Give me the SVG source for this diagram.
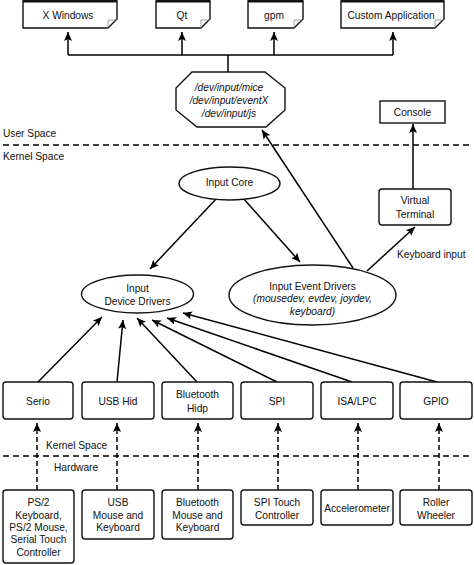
<svg xmlns="http://www.w3.org/2000/svg" width="474" height="565" viewBox="0 0 474 565">
<defs>
<marker id="ah" markerUnits="userSpaceOnUse" markerWidth="10" markerHeight="8" refX="9" refY="4" orient="auto">
<path d="M0,0 L9,4 L0,8 L2,4 z" fill="#000"/>
</marker>
<style>
text{font-family:"Liberation Sans",Arial,sans-serif;font-size:10.2px;fill:#111;}
.c{text-anchor:middle;}
.i{font-style:italic;}
.box{fill:#fff;stroke:#111;stroke-width:1.4;}
.top{stroke:#111;stroke-width:3;}
.fold{fill:none;stroke:#888;stroke-width:0.8;}
.ln{fill:none;stroke:#000;stroke-width:1.5;}
.ar{fill:none;stroke:#000;stroke-width:1.5;marker-end:url(#ah);}
.da{fill:none;stroke:#000;stroke-width:1.5;stroke-dasharray:5,3;marker-end:url(#ah);}
.sep{fill:none;stroke:#000;stroke-width:1.5;stroke-dasharray:6,4;}
</style>
</defs>
<rect width="474" height="565" fill="#fff"/>

<g id="separators">
<line class="sep" x1="3" y1="145" x2="470" y2="145"/>
<line class="sep" x1="3" y1="456" x2="470" y2="456"/>
<text x="3" y="137">User Space</text>
<text x="3" y="160">Kernel Space</text>
<text x="46" y="449">Kernel Space</text>
<text x="54" y="471">Hardware</text>
</g>

<g id="connectors">
<path class="ln" d="M68,55 H393 M228,55 V72"/>
<line class="ar" x1="68" y1="55" x2="68" y2="32"/>
<line class="ar" x1="182" y1="55" x2="182" y2="32"/>
<line class="ar" x1="274" y1="55" x2="274" y2="32"/>
<line class="ar" x1="393" y1="55" x2="393" y2="32"/>
<line class="ar" x1="353" y1="268" x2="262" y2="130"/>
<line class="ar" x1="413" y1="189" x2="413" y2="124"/>
<line class="ar" x1="367" y1="271" x2="415" y2="227"/>
<path class="ln" d="M217,198 C224,188 236,188 243,198"/>
<line class="ar" x1="217" y1="198" x2="150" y2="269"/>
<line class="ar" x1="243" y1="198" x2="300" y2="262"/>
<line class="ar" x1="38" y1="382" x2="102" y2="317"/>
<line class="ar" x1="117" y1="382" x2="123" y2="320"/>
<line class="ar" x1="197" y1="382" x2="137" y2="318"/>
<line class="ar" x1="277" y1="382" x2="152" y2="320"/>
<line class="ar" x1="352" y1="382" x2="167" y2="318"/>
<line class="ar" x1="437" y1="382" x2="183" y2="313"/>
<line class="da" x1="37" y1="490" x2="37" y2="423"/>
<line class="da" x1="117" y1="490" x2="117" y2="423"/>
<line class="da" x1="198" y1="490" x2="198" y2="423"/>
<line class="da" x1="278" y1="490" x2="278" y2="423"/>
<line class="da" x1="358" y1="490" x2="358" y2="423"/>
<line class="da" x1="439" y1="490" x2="439" y2="423"/>
<text x="397" y="258">Keyboard input</text>
</g>

<g id="xwindows">
<path class="box" d="M23,1 H117 V19 L108,28 H23 Z"/>
<line class="top" x1="23" y1="1" x2="117" y2="1"/>
<path class="fold" d="M108,28 V20 H117"/>
<text class="c" x="68" y="19">X Windows</text>
</g>
<g id="qt">
<path class="box" d="M156,1 H210 V19 L201,28 H156 Z"/>
<line class="top" x1="156" y1="1" x2="210" y2="1"/>
<path class="fold" d="M201,28 V20 H210"/>
<text class="c" x="182" y="19">Qt</text>
</g>
<g id="gpm">
<path class="box" d="M248,1 H303 V19 L294,28 H248 Z"/>
<line class="top" x1="248" y1="1" x2="303" y2="1"/>
<path class="fold" d="M294,28 V20 H303"/>
<text class="c" x="274" y="19">gpm</text>
</g>
<g id="customapp">
<path class="box" d="M341,1 H444 V19 L435,28 H341 Z"/>
<line class="top" x1="341" y1="1" x2="444" y2="1"/>
<path class="fold" d="M435,28 V20 H444"/>
<text class="c" x="391" y="19">Custom Application</text>
</g>

<g id="devinput">
<polygon class="box" points="192,72 265,72 285,88 285,110 266,127 197,127 176,110 176,88"/>
<text class="c i" x="229" y="91">/dev/input/mice</text>
<text class="c i" x="229" y="104">/dev/input/eventX</text>
<text class="c i" x="229" y="117">/dev/input/js</text>
</g>

<g id="console">
<rect class="box" x="380" y="101" width="65" height="22"/>
<text class="c" x="412.5" y="116">Console</text>
</g>

<g id="virtualterminal">
<rect class="box" x="379" y="189" width="72" height="36" rx="3"/>
<text class="c" x="415" y="204">Virtual</text>
<text class="c" x="415" y="218">Terminal</text>
</g>

<g id="inputcore">
<ellipse class="box" cx="229.5" cy="183.5" rx="50.5" ry="16.5"/>
<text class="c" x="229.5" y="186">Input Core</text>
</g>

<g id="inputdevicedrivers">
<ellipse class="box" cx="137.5" cy="294" rx="56" ry="19"/>
<text class="c" x="137.5" y="291.5">Input</text>
<text class="c" x="137.5" y="305">Device Drivers</text>
</g>

<g id="inputeventdrivers">
<ellipse class="box" cx="312.5" cy="295" rx="83.5" ry="30"/>
<text class="c" x="312.5" y="289.5">Input Event Drivers</text>
<text class="c i" x="312.5" y="302">(mousedev, evdev, joydev,</text>
<text class="c i" x="312.5" y="314.5">keyboard)</text>
</g>

<g id="serio">
<rect class="box" x="3" y="382" width="70" height="37" rx="3"/>
<text class="c" x="38" y="405">Serio</text>
</g>
<g id="usbhid">
<rect class="box" x="82" y="382" width="72" height="37" rx="3"/>
<text class="c" x="118" y="405">USB Hid</text>
</g>
<g id="bthidp">
<rect class="box" x="162" y="382" width="71" height="37" rx="3"/>
<text class="c" x="197.5" y="398">Bluetooth</text>
<text class="c" x="197.5" y="411.5">Hidp</text>
</g>
<g id="spi">
<rect class="box" x="241" y="382" width="72" height="37" rx="3"/>
<text class="c" x="277" y="405">SPI</text>
</g>
<g id="isalpc">
<rect class="box" x="321" y="382" width="72" height="37" rx="3"/>
<text class="c" x="357" y="405">ISA/LPC</text>
</g>
<g id="gpio">
<rect class="box" x="400" y="382" width="72" height="37" rx="3"/>
<text class="c" x="436" y="405">GPIO</text>
</g>

<g id="ps2">
<rect class="box" x="3" y="490" width="71" height="73" rx="3"/>
<text class="c" x="38.5" y="506">PS/2</text>
<text class="c" x="38.5" y="518.5">Keyboard,</text>
<text class="c" x="38.5" y="531">PS/2 Mouse,</text>
<text class="c" x="38.5" y="543">Serial Touch</text>
<text class="c" x="38.5" y="555.5">Controller</text>
</g>
<g id="usbmk">
<rect class="box" x="82" y="490" width="72" height="49" rx="3"/>
<text class="c" x="118" y="506">USB</text>
<text class="c" x="118" y="518.5">Mouse and</text>
<text class="c" x="118" y="531">Keyboard</text>
</g>
<g id="btmk">
<rect class="box" x="162" y="490" width="71" height="49" rx="3"/>
<text class="c" x="197.5" y="506">Bluetooth</text>
<text class="c" x="197.5" y="518.5">Mouse and</text>
<text class="c" x="197.5" y="531">Keyboard</text>
</g>
<g id="spitouch">
<rect class="box" x="241" y="490" width="72" height="35" rx="3"/>
<text class="c" x="277" y="506">SPI Touch</text>
<text class="c" x="277" y="518.5">Controller</text>
</g>
<g id="accel">
<rect class="box" x="321" y="490" width="72" height="35" rx="3"/>
<text class="c" x="357" y="512">Accelerometer</text>
</g>
<g id="roller">
<rect class="box" x="400" y="490" width="72" height="35" rx="3"/>
<text class="c" x="436" y="506">Roller</text>
<text class="c" x="436" y="518.5">Wheeler</text>
</g>
</svg>
